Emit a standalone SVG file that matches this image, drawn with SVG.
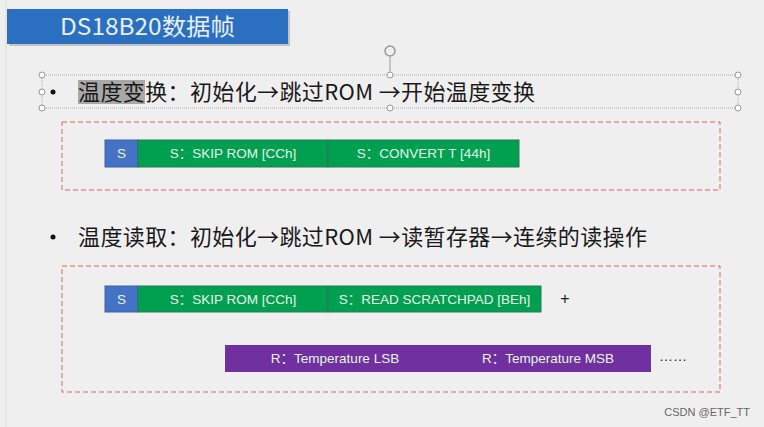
<svg xmlns="http://www.w3.org/2000/svg" width="764" height="427" viewBox="0 0 764 427">
<style>
.cn{font-family:"Noto Sans CJK SC","Liberation Sans",sans-serif;font-size:22px;fill:#1a1a1a}
.bx{font-family:"Liberation Sans","Noto Sans CJK SC",sans-serif;font-size:13.5px;fill:#e8f5e8;text-anchor:middle}
.dash{fill:none;stroke:#e06060;stroke-width:1;stroke-dasharray:5,3}
.h{fill:#fff;stroke:#999;stroke-width:1}
</style>
<rect width="764" height="427" fill="#f0eff0"/>
<line x1="6" y1="0" x2="6" y2="427" stroke="#dcdcdc"/>
<g id="title">
<rect x="9" y="11" width="281" height="35" fill="#9a9a9a" opacity="0.5"/>
<rect x="7" y="9" width="281" height="35" fill="#2b6fc0"/>
<text x="60" y="35" textLength="175" lengthAdjust="spacingAndGlyphs" font-family="Noto Sans CJK SC,Liberation Sans,sans-serif" font-size="23" fill="#e8f0fa">DS18B20数据帧</text>
</g>
<g id="selection">
<rect x="42" y="75" width="696" height="33" fill="none" stroke="#aaa" stroke-dasharray="1,1"/>
<line x1="390" y1="57" x2="390" y2="75" stroke="#999"/>
<circle cx="390" cy="51" r="5" fill="none" stroke="#999" stroke-width="1.5"/>
<circle class="h" cx="42" cy="75" r="3"/><circle class="h" cx="42" cy="92" r="3"/><circle class="h" cx="42" cy="108" r="3"/>
<circle class="h" cx="390" cy="75" r="3"/><circle class="h" cx="390" cy="108" r="3"/>
<circle class="h" cx="738" cy="75" r="3"/><circle class="h" cx="738" cy="92" r="3"/><circle class="h" cx="738" cy="108" r="3"/>
</g>
<g id="line1">
<rect x="78" y="80" width="67" height="24" fill="#a8a8a8"/>
<circle cx="53" cy="92" r="2.5" fill="#111"/>
<text class="cn" x="78" y="100" textLength="457" lengthAdjust="spacing">温度变换：初始化→跳过ROM →开始温度变换</text>
</g>
<g id="frame1">
<rect class="dash" x="62" y="122" width="658" height="68"/>
<rect x="105" y="140" width="33" height="27" fill="#4472c4" stroke="#3a62a8"/>
<text class="bx" x="121.5" y="158">S</text>
<rect x="138" y="140" width="190" height="27" fill="#00a050" stroke="#2a7a50"/>
<text class="bx" x="233" y="158">S：SKIP ROM [CCh]</text>
<rect x="328" y="140" width="191" height="27" fill="#00a050" stroke="#2a7a50"/>
<text class="bx" x="423.5" y="158">S：CONVERT T [44h]</text>
</g>
<g id="line2">
<circle cx="53" cy="237" r="2.5" fill="#111"/>
<text class="cn" x="78" y="245" textLength="569" lengthAdjust="spacing">温度读取：初始化→跳过ROM →读暂存器→连续的读操作</text>
</g>
<g id="frame2">
<rect class="dash" x="62" y="266" width="658" height="126"/>
<rect x="105" y="286" width="33" height="26" fill="#4472c4" stroke="#3a62a8"/>
<text class="bx" x="121.5" y="304">S</text>
<rect x="138" y="286" width="190" height="26" fill="#00a050" stroke="#2a7a50"/>
<text class="bx" x="233" y="304">S：SKIP ROM [CCh]</text>
<rect x="328" y="286" width="213" height="26" fill="#00a050" stroke="#2a7a50"/>
<text class="bx" x="434.5" y="304">S：READ SCRATCHPAD [BEh]</text>
<text x="565" y="304" text-anchor="middle" font-family="Liberation Sans,sans-serif" font-size="16" fill="#222">+</text>
<rect x="225" y="345" width="220" height="27" fill="#7030a0"/>
<text class="bx" x="335" y="363" fill="#f0e8f8">R：Temperature LSB</text>
<rect x="445" y="345" width="206" height="27" fill="#7030a0"/>
<text class="bx" x="548" y="363" fill="#f0e8f8">R：Temperature MSB</text>
<text x="673" y="361" text-anchor="middle" font-family="Liberation Sans,sans-serif" font-size="14" fill="#222">……</text>
</g>
<text x="750" y="416" text-anchor="end" font-family="Liberation Sans,sans-serif" font-size="11" fill="#666">CSDN @ETF_TT</text>
</svg>
